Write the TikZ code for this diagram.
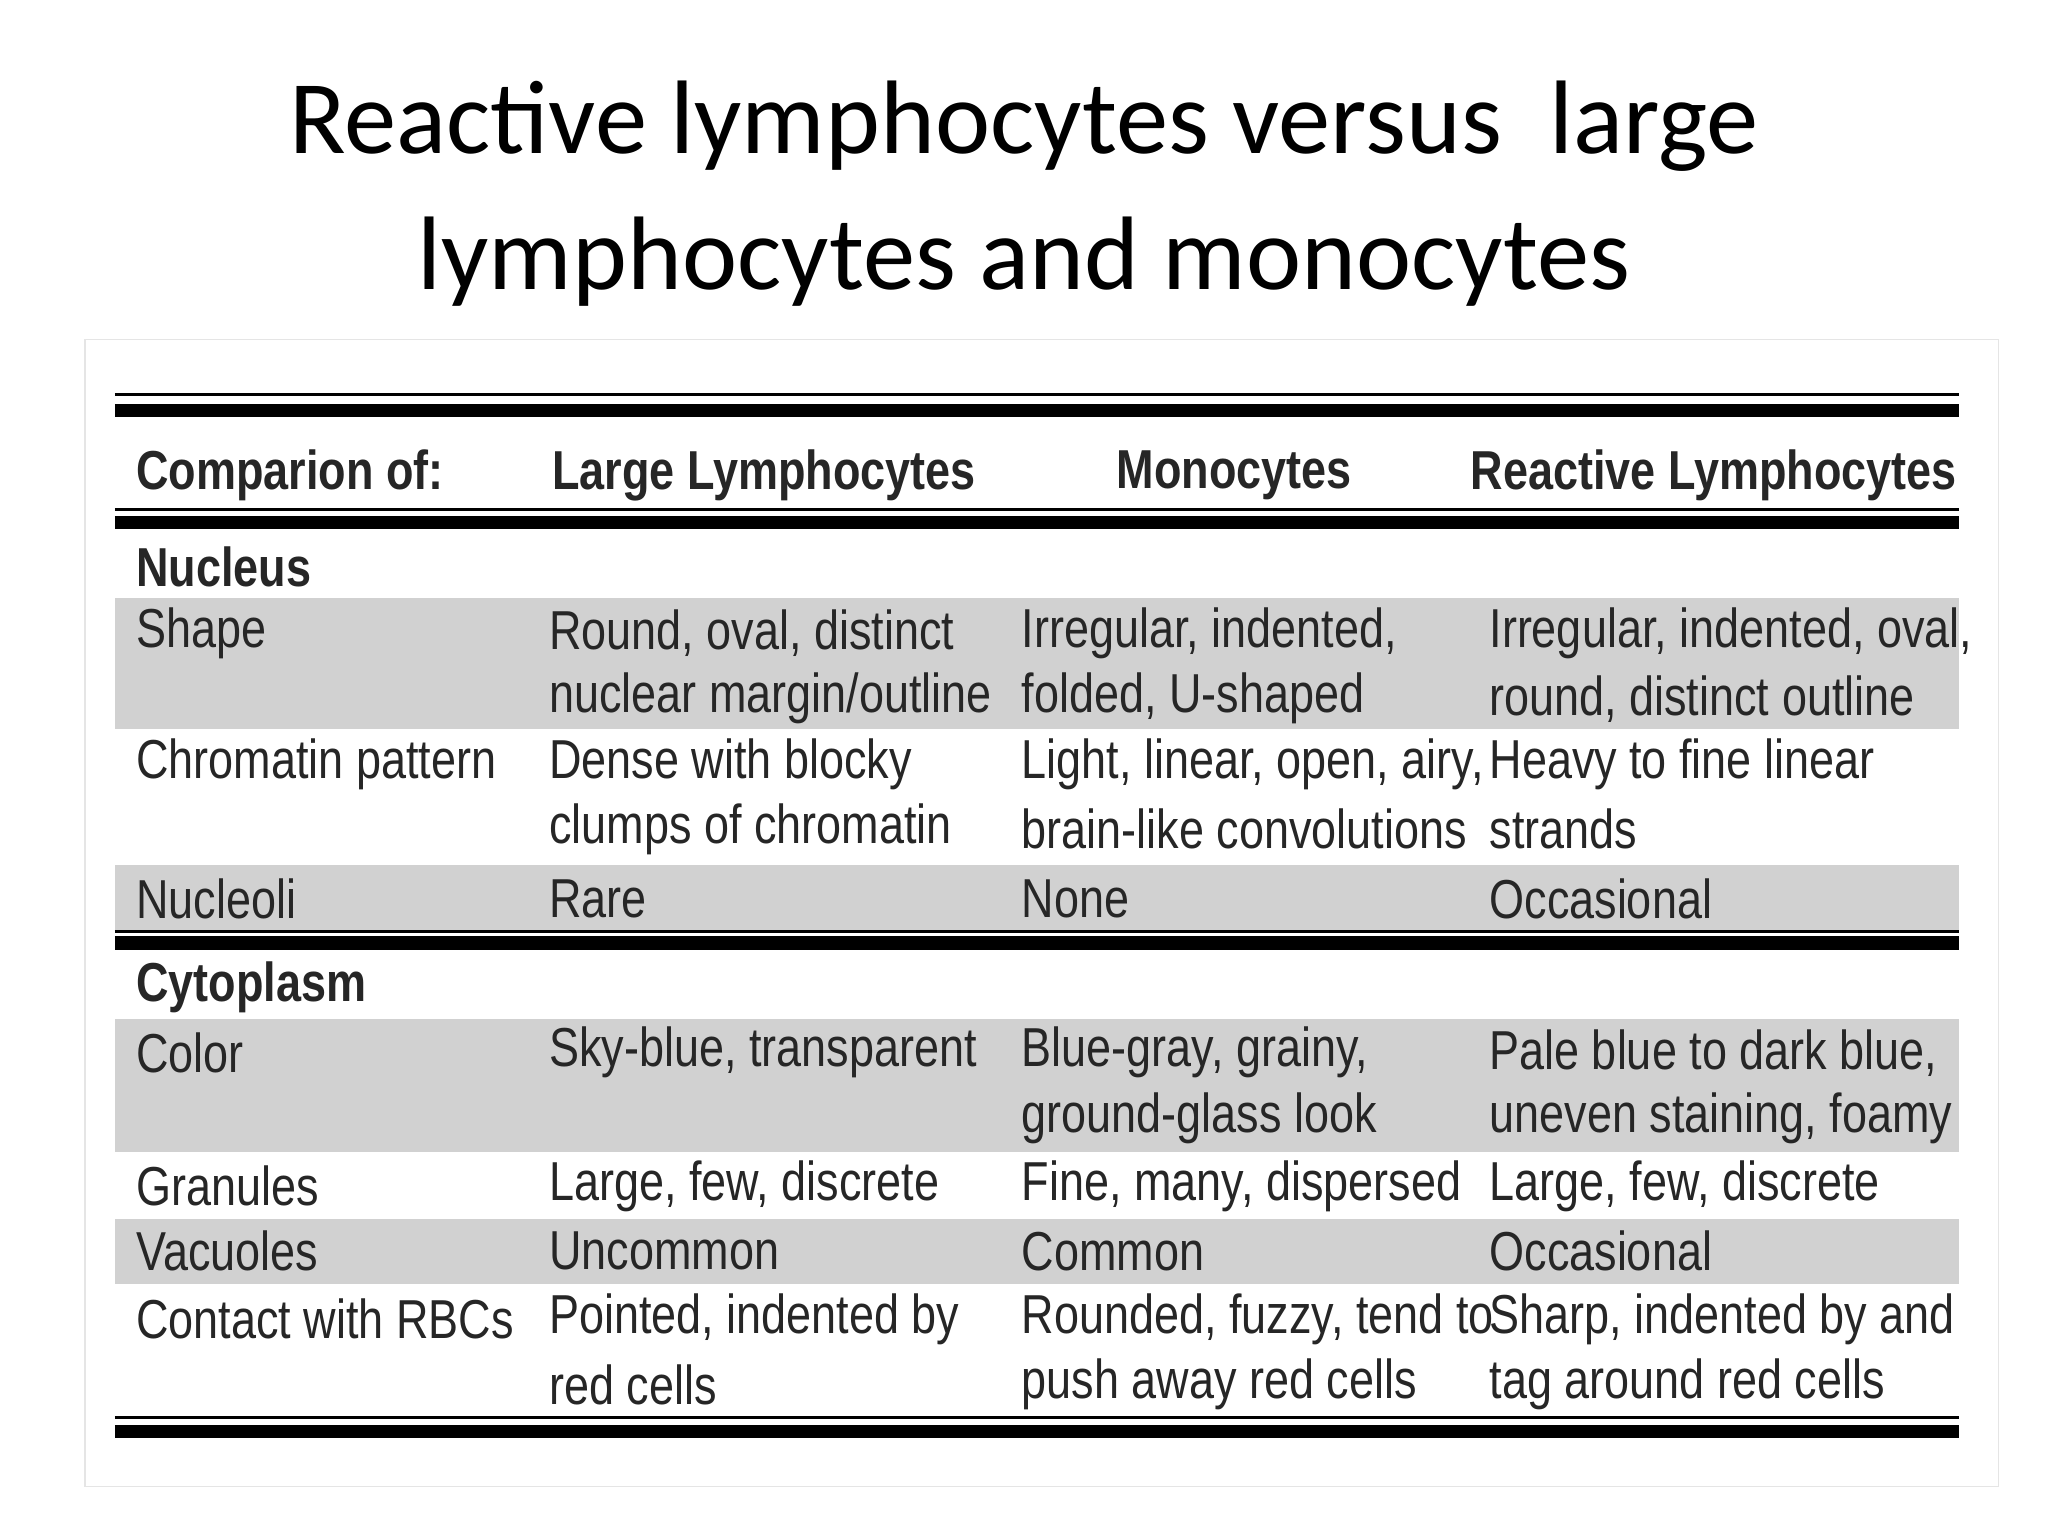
\documentclass[tikz,border=0pt]{standalone}
\usepackage{fontspec}
\setmainfont{Carlito}
\newfontfamily\tabfont[FakeStretch=0.82]{Liberation Sans}
\begin{document}
\begin{tikzpicture}[x=0.5pt,y=-0.5pt,
  tx/.style={anchor=west,inner sep=0pt,font=\tabfont\fontsize{21}{24}\selectfont,text=black!85},
  hd/.style={anchor=center,inner sep=0pt,font=\tabfont\fontsize{21}{24}\selectfont,text=black!85},
  bx/.style={tx,font=\tabfont\bfseries\fontsize{21}{24}\selectfont},
  thin/.style={line width=1.2pt},thick/.style={line width=5pt}]
\useasboundingbox (0,0) rectangle (1568,1176);
\fill[white] (0,0) rectangle (1568,1176);
\node[font=\fontsize{40}{48}\selectfont] (t1) at (784,97) {Reactive lymphocytes versus\ \ large};
\node[font=\fontsize{40}{48}\selectfont] (t2) at (784,200) {lymphocytes and monocytes};
\draw[black!10,line width=0.6pt] (65,260) rectangle (1530,1138);
\fill[black!18] (88,458) rectangle (1500,558);
\fill[black!18] (88,662) rectangle (1500,712);
\fill[black!18] (88,780) rectangle (1500,882);
\fill[black!18] (88,933) rectangle (1500,983);
\draw[thin] (88,302)--(1500,302);
\draw[thick] (88,314)--(1500,314);
\draw[thin] (88,390)--(1500,390);
\draw[thick] (88,400)--(1500,400);
\draw[thin] (88,713)--(1500,713);
\draw[thick] (88,722)--(1500,722);
\draw[thin] (88,1085)--(1500,1085);
\draw[thick] (88,1096)--(1500,1096);
\node[bx] (h0) at (104,364) {Comparion of:};
\node[hd,font=\tabfont\bfseries\fontsize{21}{24}\selectfont] (h1) at (585,364) {Large Lymphocytes};
\node[hd,font=\tabfont\bfseries\fontsize{21}{24}\selectfont] (h2) at (945,364) {Monocytes};
\node[hd,font=\tabfont\bfseries\fontsize{21}{24}\selectfont] (h3) at (1312,364) {Reactive Lymphocytes};
\node[bx] (nuc) at (104,434) {Nucleus};
\node[bx] (cyt) at (104,756) {Cytoplasm};
\foreach \y/\a/\b/\c/\d [count=\i] in {
 485/Shape/{Round, oval, distinct}/{Irregular, indented,}/{Irregular, indented, oval,},
 535//{nuclear margin/outline}/{folded, U-shaped}/{round, distinct outline},
 585/Chromatin pattern/Dense with blocky/{Light, linear, open, airy,}/Heavy to fine linear,
 635//clumps of chromatin/brain-like convolutions/strands,
 688/Nucleoli/Rare/None/Occasional,
 806/Color/{Sky-blue, transparent}/{Blue-gray, grainy,}/{Pale blue to dark blue,},
 856///ground-glass look/{uneven staining, foamy},
 908/Granules/{Large, few, discrete}/{Fine, many, dispersed}/{Large, few, discrete},
 958/Vacuoles/Uncommon/Common/Occasional,
 1010/Contact with RBCs/{Pointed, indented by}/{Rounded, fuzzy, tend to}/{Sharp, indented by and},
 1060//red cells/push away red cells/tag around red cells}{
 \node[tx] (a\i) at (104,\y) {\a};
 \node[tx] (b\i) at (420,\y) {\b};
 \node[tx] (c\i) at (782,\y) {\c};
 \node[tx] (d\i) at (1140,\y) {\d};
}
\end{tikzpicture}
\end{document}
